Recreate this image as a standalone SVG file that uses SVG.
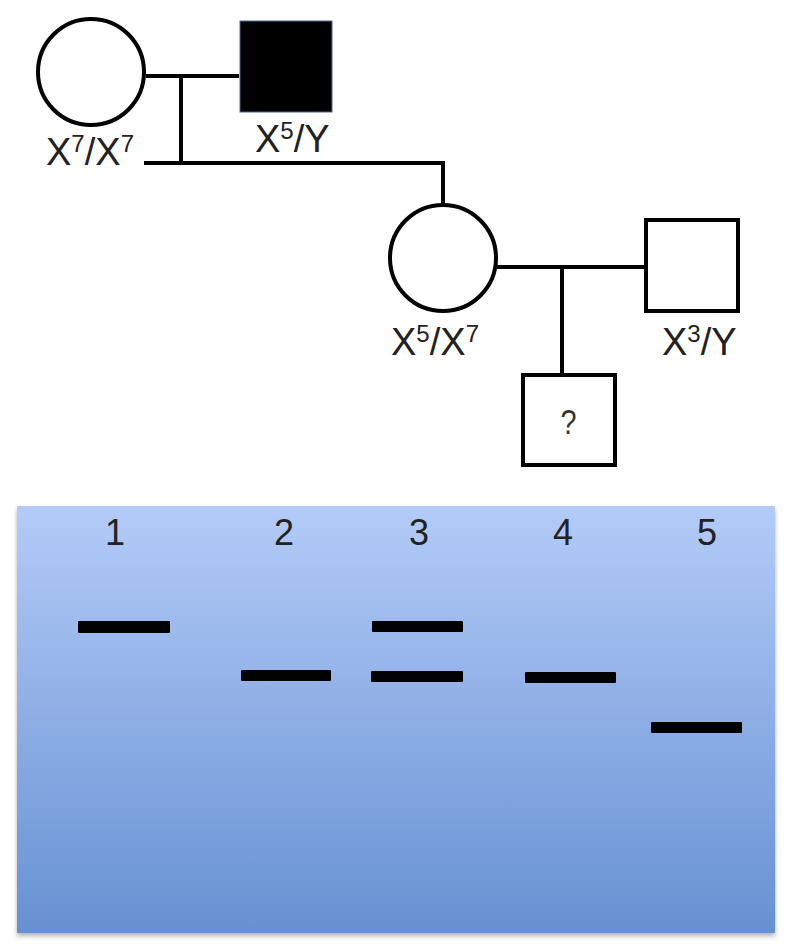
<svg xmlns="http://www.w3.org/2000/svg" width="788" height="950" viewBox="0 0 788 950">
<defs>
<linearGradient id="gel" x1="0" y1="0" x2="0" y2="1">
<stop offset="0" stop-color="#b3cbf8"/>
<stop offset="1" stop-color="#6791d2"/>
</linearGradient>
<filter id="sh" x="-5%" y="-5%" width="110%" height="110%">
<feDropShadow dx="0" dy="3" stdDeviation="2.5" flood-color="#000" flood-opacity="0.3"/>
</filter>
<style>
.sym{fill:#fff;stroke:#000;stroke-width:4}
.line{stroke:#000;stroke-width:4;fill:none}
.lbl{font-family:"Liberation Sans",Arial,sans-serif;font-size:38px;fill:#222}
.lane{font-family:"Liberation Sans Narrow","Liberation Sans",Arial,sans-serif;font-size:36px;fill:#222;text-anchor:middle}
.band{fill:#000}
</style>
</defs>
<rect width="788" height="950" fill="#fff"/>
<g id="connectors">
<line class="line" x1="146" y1="76" x2="239" y2="76"/>
<line class="line" x1="181" y1="76" x2="181" y2="163"/>
<polyline class="line" points="144,163 443,163 443,205"/>
<line class="line" x1="497" y1="267" x2="644" y2="267" stroke-width="5"/>
<line class="line" x1="562" y1="267" x2="562" y2="373"/>
</g>
<g id="grandmother">
<circle class="sym" cx="91" cy="72" r="53"/>
<text class="lbl" x="46" y="165">X<tspan font-size="24" dy="-13">7</tspan><tspan dy="13">/X</tspan><tspan font-size="24" dy="-13">7</tspan></text>
</g>
<g id="grandfather">
<rect x="240" y="21" width="92" height="91" fill="#000" stroke="#4a6a9a" stroke-width="1"/>
<text class="lbl" x="255" y="152">X<tspan font-size="24" dy="-13">5</tspan><tspan dy="13">/Y</tspan></text>
</g>
<g id="mother">
<circle class="sym" cx="443" cy="258" r="53"/>
<text class="lbl" x="391" y="355">X<tspan font-size="24" dy="-13">5</tspan><tspan dy="13">/X</tspan><tspan font-size="24" dy="-13">7</tspan></text>
</g>
<g id="father">
<rect class="sym" x="646" y="220" width="92" height="91"/>
<text class="lbl" x="662" y="355">X<tspan font-size="24" dy="-13">3</tspan><tspan dy="13">/Y</tspan></text>
</g>
<g id="child">
<rect class="sym" x="523" y="375" width="92" height="90"/>
<text transform="translate(568.5,434) scale(0.8,1)" text-anchor="middle" font-family="Liberation Sans, Arial, sans-serif" font-size="36" fill="#333">?</text>
</g>
<g id="gel-panel">
<rect x="17" y="506" width="758" height="427" fill="url(#gel)" filter="url(#sh)"/>
<text class="lane" x="115" y="545">1</text>
<text class="lane" x="284" y="545">2</text>
<text class="lane" x="419" y="545">3</text>
<text class="lane" x="563" y="545">4</text>
<text class="lane" x="707" y="545">5</text>
<rect class="band" x="78" y="621" width="92" height="12" rx="1"/>
<rect class="band" x="241" y="670" width="90" height="11" rx="1"/>
<rect class="band" x="372" y="621" width="91" height="11" rx="1"/>
<rect class="band" x="371" y="671" width="92" height="11" rx="1"/>
<rect class="band" x="525" y="672" width="91" height="11" rx="1"/>
<rect class="band" x="651" y="722" width="91" height="11" rx="1"/>
</g>
</svg>
